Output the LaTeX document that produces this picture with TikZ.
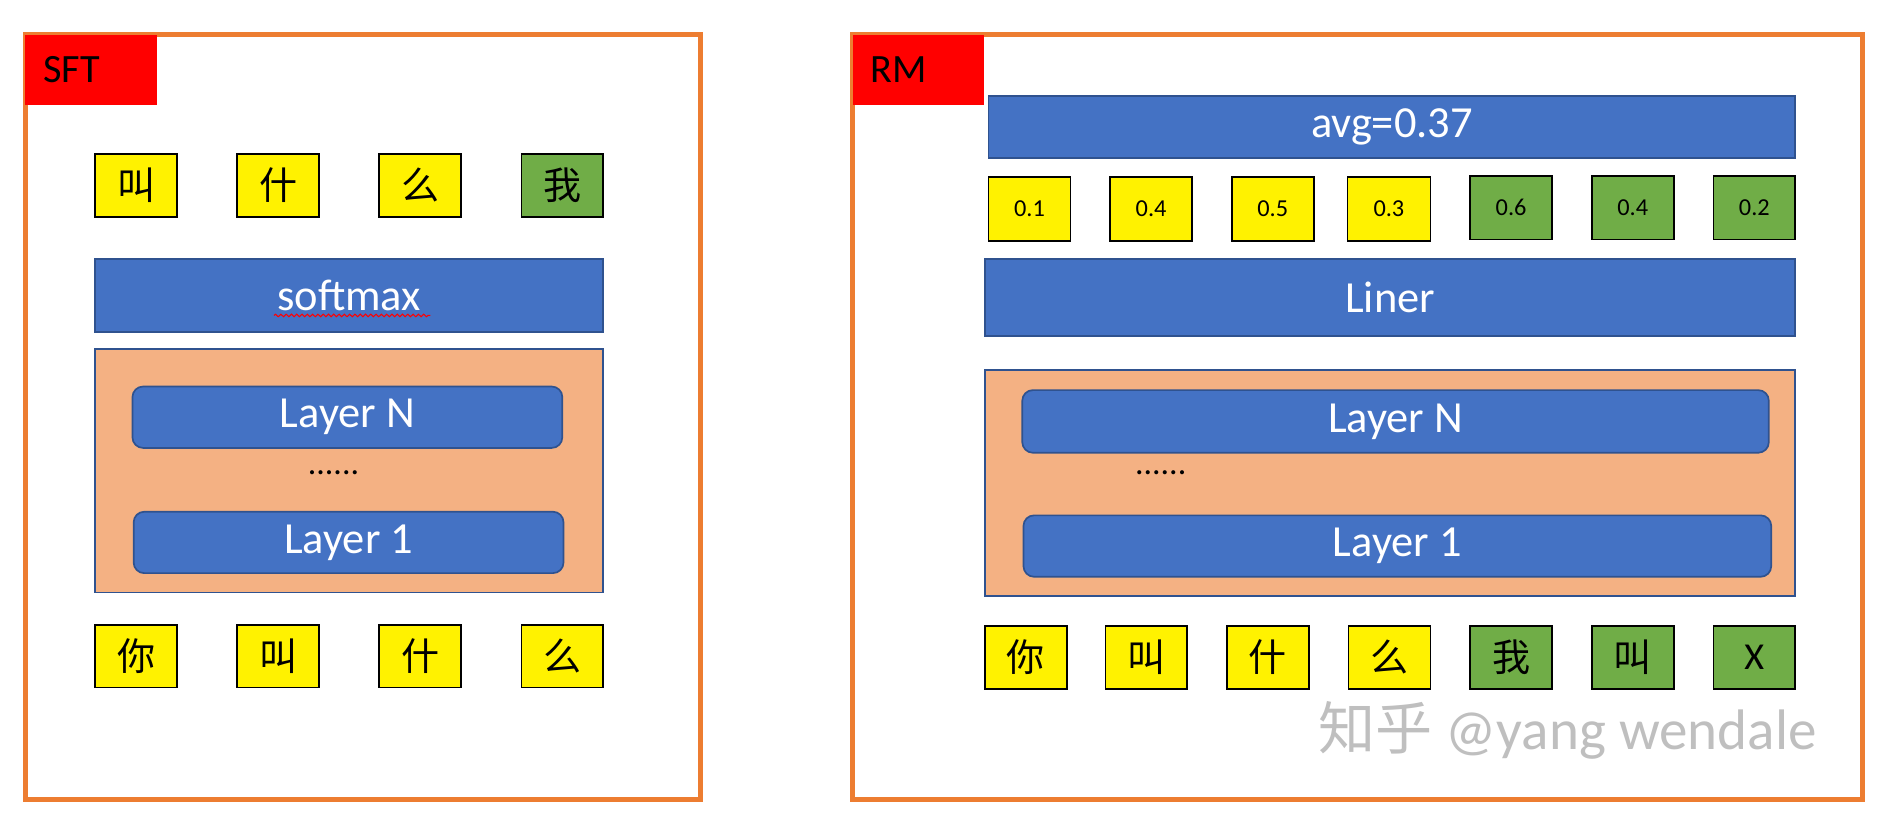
\documentclass[tikz,border=0pt]{standalone}
\usepackage{fontspec}
\setmainfont{Carlito}
\newfontfamily\cjk{Noto Sans CJK SC}
\usetikzlibrary{decorations.pathmorphing}
\definecolor{bl}{HTML}{4472C4}
\definecolor{bd}{HTML}{2F528F}
\definecolor{org}{HTML}{F4B183}
\definecolor{frm}{HTML}{ED7D31}
\definecolor{gr}{HTML}{70AD47}
\tikzset{
 base/.style={inner sep=0pt,outer sep=0pt},
 frame/.style={base,draw=frm,line width=2.3pt},
 lab/.style={base,fill=red,text=black,font=\fontsize{19}{19}\selectfont},
 chy/.style={base,fill=yellow,draw=black,line width=0.8pt,font=\cjk\fontsize{18}{18}\selectfont},
 chg/.style={chy,fill=gr},
 scy/.style={base,fill=yellow,draw=black,line width=0.8pt,font=\fontsize{11.5}{12}\selectfont},
 scg/.style={scy,fill=gr},
 bar/.style={base,fill=bl,draw=bd,line width=0.8pt,text=white,font=\fontsize{21}{21}\selectfont},
 lay/.style={bar,rounded corners=5pt},
 blk/.style={base,fill=org,draw=bd,line width=0.8pt},
 dots/.style={base,font=\fontsize{16}{16}\selectfont},
 wm/.style={base,text=black!25,font=\fontsize{27}{27}\selectfont}
}
\newcommand\B[7]{\node[#6, minimum width={(#4-#2)*0.02cm}, minimum height={(#5-#3)*0.02cm}] (#1) at ({(#2+#4)/2*0.02},{-(#3+#5)/2*0.02}) {#7};}
\begin{document}
\begin{tikzpicture}
\useasboundingbox (0,0) rectangle (1568*0.02,-681*0.02);
% SFT
\B{sft}{21}{29}{582}{664}{frame}{}
\B{sftl}{21}{29}{130}{87}{lab}{}
\node[lab,fill=none,anchor=west] (sftt) at (sftl.west) [xshift=0.3cm] {SFT};
\B{t1}{79}{128}{147}{180}{chy}{叫}
\B{t2}{197}{128}{265}{180}{chy}{什}
\B{t3}{315}{128}{383}{180}{chy}{么}
\B{t4}{433}{128}{501}{180}{chg}{我}
\B{soft}{79}{215}{501}{276}{bar}{softmax}
\draw[red,line width=0.5pt,decorate,decoration={snake,amplitude=0.6pt,segment length=2.5pt}] ([xshift=-1.25cm,yshift=-0.33cm]soft.center) -- ([xshift=1.35cm,yshift=-0.33cm]soft.center);
\B{blkA}{79}{290}{501}{492}{blk}{}
\B{lnA}{110}{321}{467}{372}{lay}{Layer N}
\node[dots] (dA) at (277*0.02,-393*0.02) {......};
\B{l1A}{111}{425}{468}{476}{lay}{Layer 1}
\B{b1}{79}{519}{147}{571}{chy}{你}
\B{b2}{197}{519}{265}{571}{chy}{叫}
\B{b3}{315}{519}{383}{571}{chy}{什}
\B{b4}{433}{519}{501}{571}{chy}{么}
% RM
\B{rm}{708}{29}{1547}{664}{frame}{}
\B{rml}{708}{29}{817}{87}{lab}{}
\node[lab,fill=none,anchor=west] (rmt) at (rml.west) [xshift=0.3cm] {RM};
\B{avg}{821}{80}{1491}{131}{bar}{avg=0.37}
\B{s1}{821}{147}{889}{200}{scy}{0.1}
\B{s2}{922}{147}{990}{200}{scy}{0.4}
\B{s3}{1023}{147}{1091}{200}{scy}{0.5}
\B{s4}{1119}{147}{1188}{200}{scy}{0.3}
\B{s5}{1221}{146}{1289}{199}{scg}{0.6}
\B{s6}{1322}{146}{1390}{199}{scg}{0.4}
\B{s7}{1423}{146}{1491}{199}{scg}{0.2}
\B{lin}{818}{215}{1491}{279}{bar}{Liner}
\B{blkB}{818}{307}{1491}{495}{blk}{}
\B{lnB}{849}{324}{1469}{376}{lay}{Layer N}
\node[dots] (dB) at (964*0.02,-393*0.02) {......};
\B{l1B}{850}{428}{1471}{479}{lay}{Layer 1}
\B{r1}{818}{520}{886}{572}{chy}{你}
\B{r2}{918}{520}{986}{572}{chy}{叫}
\B{r3}{1019}{520}{1087}{572}{chy}{什}
\B{r4}{1120}{520}{1188}{572}{chy}{么}
\B{r5}{1221}{520}{1289}{572}{chg}{我}
\B{r6}{1322}{520}{1390}{572}{chg}{叫}
\B{r7}{1423}{520}{1491}{572}{chg}{\rmfamily X}
\node[wm] (wm) at (1302*0.02,-607*0.02) {{\cjk 知乎} @yang wendale};
\end{tikzpicture}
\end{document}
